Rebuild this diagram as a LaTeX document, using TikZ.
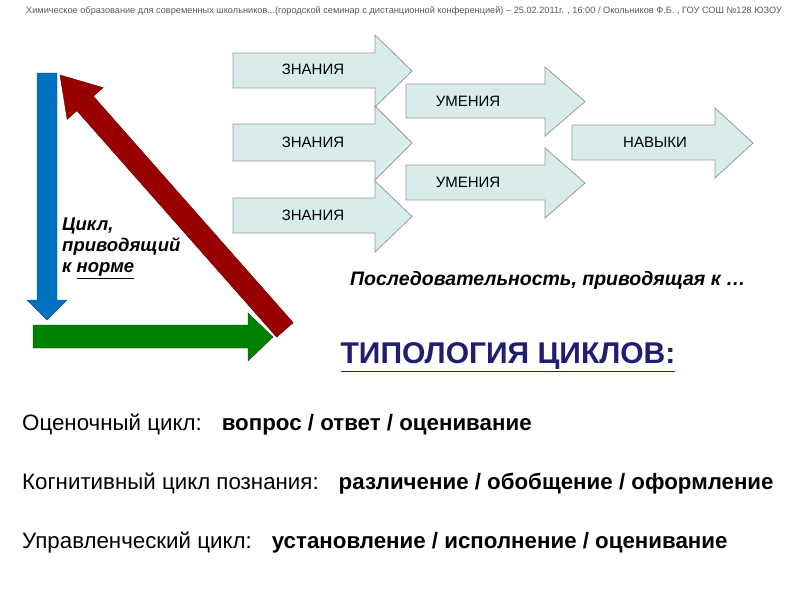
\documentclass[tikz,border=0pt]{standalone}
\usepackage{fontspec}
\setmainfont{Liberation Sans}
\begin{document}
\begin{tikzpicture}[x=1pt,y=-1pt,
  chev/.style={fill=teal!15!white,draw=gray!80,line width=0.8pt},
  lbl/.style={font=\fontsize{15}{18}\selectfont,anchor=center},
  body/.style={font=\fontsize{22.3}{26}\selectfont,anchor=west,inner sep=0}]
\useasboundingbox (0,0) rectangle (800,600);
\node[anchor=west,font=\fontsize{9.2}{11}\selectfont,text=gray!70!black,inner sep=0] (hdr) at (26,11) {Химическое образование для современных школьников...(городской семинар с дистанционной конференцией) – 25.02.2011г. , 16:00 / Окольников Ф.Б. , ГОУ СОШ №128 ЮЗОУ};
\newcommand{\chevr}[7]{%
  \draw[chev] (#1,#2) -- (#4,#2) -- (#4,#5) -- (#7,{(#5+#6)/2}) -- (#4,#6) -- (#4,#3) -- (#1,#3) -- cycle;}
\chevr{233}{53}{88}{375}{35}{107}{412}
\chevr{233}{124}{161}{375}{106}{180}{412}
\chevr{233}{198}{233}{375}{181}{252}{412}
\chevr{406}{84}{118}{545}{67}{136}{585}
\chevr{406}{165}{200}{545}{148}{218}{585}
\chevr{572}{125}{160}{715}{108}{178}{753}
\node[lbl] (t1) at (313,69) {ЗНАНИЯ};
\node[lbl] (t2) at (313,142) {ЗНАНИЯ};
\node[lbl] (t3) at (313,215) {ЗНАНИЯ};
\node[lbl] (t4) at (468,101) {УМЕНИЯ};
\node[lbl] (t5) at (468,182) {УМЕНИЯ};
\node[lbl] (t6) at (655,142) {НАВЫКИ};
\fill[fill={rgb,255:red,0;green,112;blue,192},draw={rgb,255:red,30;green,80;blue,140}] (37,73) -- (57,73) -- (57,300) -- (67,300) -- (47,320) -- (27,300) -- (37,300) -- cycle;
\fill[fill={rgb,255:red,0;green,128;blue,0},draw={rgb,255:red,0;green,80;blue,0}] (33,325) -- (248,325) -- (248,313) -- (273,337) -- (248,361) -- (248,348) -- (33,348) -- cycle;
\begin{scope}[shift={(60,75)},rotate={-atan2(255,225)}]
\fill[fill={rgb,255:red,153;green,0;blue,0},draw={rgb,255:red,100;green,0;blue,0}] (0,0) -- (38,-24) -- (38,-11) -- (340,-11) -- (340,11) -- (38,11) -- (38,24) -- cycle;
\end{scope}
\node[anchor=north west,align=left,font=\fontsize{18.5}{21}\selectfont\bfseries\itshape,inner sep=0] (cyc) at (62,218) {Цикл,\\приводящий\\к \underline{норме}};
\node[anchor=west,font=\fontsize{19.5}{22}\selectfont\bfseries\itshape,inner sep=0] (seq) at (350,280) {Последовательность, приводящая к …};
\node[font=\fontsize{30}{34}\selectfont\bfseries,text={rgb,255:red,31;green,31;blue,110}] (typ) at (508,357) {\underline{ТИПОЛОГИЯ ЦИКЛОВ:}};
\node[body] (l1) at (22,425) {Оценочный цикл:\hspace{0.9em}\textbf{вопрос / ответ / оценивание}};
\node[body] (l2) at (22,484) {Когнитивный цикл познания:\hspace{0.9em}\textbf{различение / обобщение / оформление}};
\node[body] (l3) at (22,543) {Управленческий цикл:\hspace{0.9em}\textbf{установление / исполнение / оценивание}};
\end{tikzpicture}
\end{document}
